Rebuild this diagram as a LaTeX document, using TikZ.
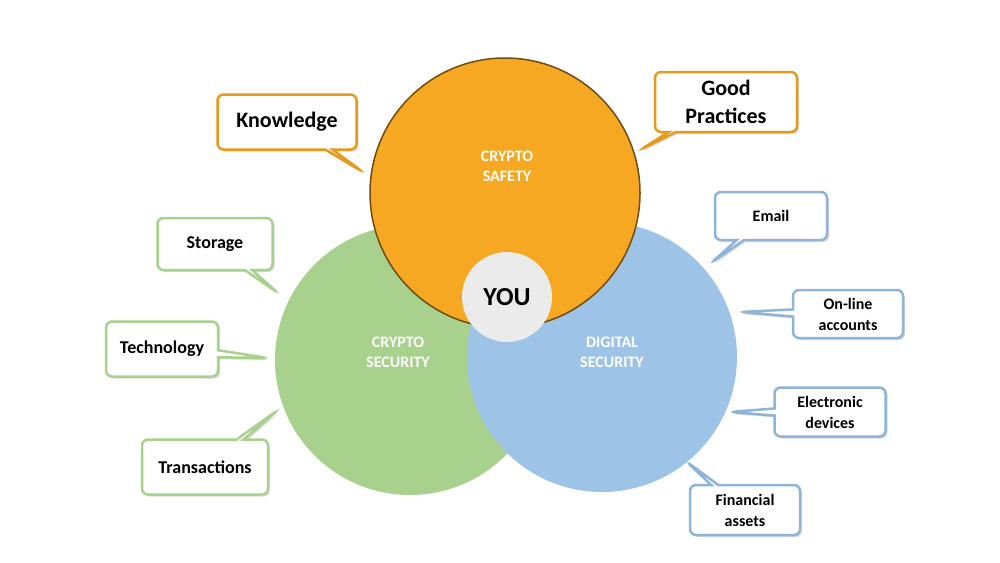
\documentclass[tikz,border=0pt]{standalone}
\usepackage{fontspec}
\setmainfont{Carlito}
\usetikzlibrary{shapes.callouts,shadows}
\definecolor{orC}{HTML}{F7A823}
\definecolor{orB}{HTML}{E59A1C}
\definecolor{grC}{HTML}{A9D18E}
\definecolor{grB}{HTML}{A9D18E}
\definecolor{blC}{HTML}{9DC3E6}
\definecolor{blB}{HTML}{8FB4D9}
\begin{document}
\begin{tikzpicture}[x=1pt,y=-1pt,
 co/.style={rectangle callout,rounded corners=6pt,fill=white,line width=2.5pt,
   drop shadow={shadow xshift=2pt,shadow yshift=-2pt,opacity=0.3},
   font=\bfseries,align=center,inner sep=0pt,text=black},
 circ/.style={circle,minimum size=270pt,inner sep=0pt},
 lab/.style={text=white,font=\bfseries\fontsize{16}{20}\selectfont,align=center}]
\useasboundingbox (0,0) rectangle (1000,562);
\node[circ,fill=grC] (g) at (410,360) {};
\node[circ,fill=blC] (b) at (602,357) {};
\node[circ,fill=orC,draw=black!55!orC,line width=1.5pt] (o) at (505,193) {};
\node[circle,fill=black!8,minimum size=90pt,inner sep=0pt,font=\bfseries\fontsize{26}{30}\selectfont] (you) at (507,297) {YOU};
\node[lab] (t1) at (507,166) {CRYPTO\\SAFETY};
\node[lab] (t2) at (398,352) {CRYPTO\\SECURITY};
\node[lab] (t3) at (612,352) {DIGITAL\\SECURITY};
% orange callouts
\node[co,draw=orB,minimum width=139pt,minimum height=55pt,font=\bfseries\fontsize{22}{26}\selectfont,callout absolute pointer={(363,172)}] (k) at (287,122) {Knowledge};
\node[co,draw=orB,minimum width=142pt,minimum height=60pt,font=\bfseries\fontsize{22}{28}\selectfont,callout absolute pointer={(640,150)}] (gp) at (726,102) {Good\\Practices};
% green
\node[co,draw=grB,minimum width=115pt,minimum height=52pt,font=\bfseries\fontsize{18}{22}\selectfont,callout absolute pointer={(278,293)}] (s) at (215,244) {Storage};
\node[co,draw=grB,minimum width=112pt,minimum height=55pt,font=\bfseries\fontsize{18}{22}\selectfont,callout absolute pointer={(268,358)}] (te) at (162,349) {Technology};
\node[co,draw=grB,minimum width=126pt,minimum height=55pt,font=\bfseries\fontsize{18}{22}\selectfont,callout absolute pointer={(278,410)}] (tr) at (205,467) {Transactions};
% blue
\node[co,draw=blB,minimum width=112pt,minimum height=48pt,font=\bfseries\fontsize{16}{21}\selectfont,callout absolute pointer={(711,263)}] (e) at (771,216) {Email};
\node[co,draw=blB,minimum width=110pt,minimum height=48pt,font=\bfseries\fontsize{16}{21}\selectfont,callout absolute pointer={(740,312)}] (ol) at (848,314) {On-line\\accounts};
\node[co,draw=blB,minimum width=111pt,minimum height=49pt,font=\bfseries\fontsize{16}{21}\selectfont,callout absolute pointer={(730,412)}] (ed) at (830,412) {Electronic\\devices};
\node[co,draw=blB,minimum width=110pt,minimum height=50pt,font=\bfseries\fontsize{16}{21}\selectfont,callout absolute pointer={(687,462)}] (fa) at (745,510) {Financial\\assets};
\end{tikzpicture}
\end{document}
